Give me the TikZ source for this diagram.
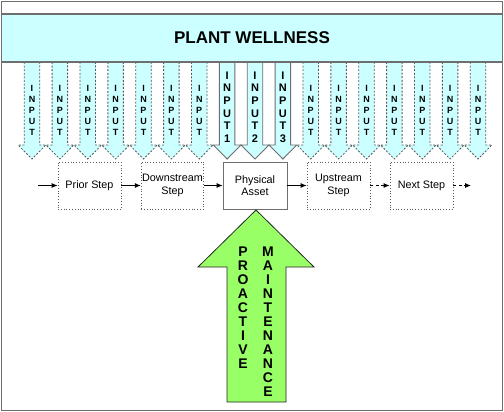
\documentclass[tikz,border=0pt]{standalone}
\usepackage{fontspec}
\setmainfont{Liberation Sans}
\usetikzlibrary{arrows.meta}
\definecolor{cyanfill}{RGB}{204,255,255}
\definecolor{greenfill}{RGB}{153,255,102}
\definecolor{framegray}{RGB}{110,110,110}
\definecolor{dashgray}{RGB}{90,90,90}
\tikzset{
  dasharrow/.style={fill=cyanfill, draw=dashgray, line width=0.8pt, dash pattern=on 2pt off 1.6pt},
  solidarrow/.style={fill=cyanfill, draw=framegray, line width=0.9pt},
  smalltxt/.style={font=\fontsize{9}{11.2}\selectfont\bfseries, align=center, inner sep=0pt},
  bigtxt/.style={font=\fontsize{11}{12.6}\selectfont\bfseries, align=center, inner sep=0pt},
  stepbox/.style={draw=dashgray, dotted, line width=0.8pt, minimum height=47pt, inner sep=1pt, align=center, font=\fontsize{10.8}{12.5}\selectfont},
  assetbox/.style={draw=framegray, fill=white, line width=0.8pt, minimum height=47pt, minimum width=64pt, inner sep=1pt, align=center, font=\fontsize{10.8}{12.5}\selectfont},
  flow/.style={-{Latex[length=6pt,width=5pt]}, line width=0.8pt, black},
  dflow/.style={flow, dash pattern=on 3pt off 2.5pt},
  greentxt/.style={font=\fontsize{14}{14}\selectfont\bfseries, align=center, inner sep=0pt},
}
\begin{document}
\begin{tikzpicture}[x=1pt,y=-1pt]
\useasboundingbox (0,0) rectangle (504,412);
\draw[framegray, line width=1.2pt] (1.5,1.5) rectangle (502.5,410.5);
% input arrows
\foreach \i in {0,...,16}{
  \pgfmathsetmacro\cx{32+27.875*\i}
  \ifnum\i<7
    \path[dasharrow] (\cx-7.75,62) -- (\cx-7.75,145) -- (\cx-13.9,145) -- (\cx,159) -- (\cx+13.9,145) -- (\cx+7.75,145) -- (\cx+7.75,62);
    \node[smalltxt] (in\i) at (\cx,110.5) {I\\N\\P\\U\\T};
  \else\ifnum\i>9
    \path[dasharrow] (\cx-7.75,62) -- (\cx-7.75,145) -- (\cx-13.9,145) -- (\cx,159) -- (\cx+13.9,145) -- (\cx+7.75,145) -- (\cx+7.75,62);
    \node[smalltxt] (in\i) at (\cx,110.5) {I\\N\\P\\U\\T};
  \fi\fi
}
\foreach \i/\n in {7/1,8/2,9/3}{
  \pgfmathsetmacro\cx{32+27.875*\i}
  \path[solidarrow] (\cx-7.75,62) -- (\cx-7.75,145) -- (\cx-13.9,145) -- (\cx,159) -- (\cx+13.9,145) -- (\cx+7.75,145) -- (\cx+7.75,62);
  \node[bigtxt] (in\i) at (\cx,107) {I\\N\\P\\U\\T\\\n};
}
% band
\node[fill=cyanfill, draw=framegray, line width=1.2pt, minimum width=501pt, minimum height=48pt, inner sep=0pt,
      font=\fontsize{17}{20}\selectfont\bfseries] (band) at (252,38) {PLANT WELLNESS};
% steps
\node[stepbox, minimum width=63pt] (prior) at (89.5,185.5) {Prior Step};
\node[stepbox, minimum width=61pt] (down) at (172.5,185.5) {Downstream\\Step};
\node[assetbox] (asset) at (255,185.5) {Physical\\Asset};
\node[stepbox, minimum width=63pt] (up) at (338.5,185.5) {Upstream\\Step};
\node[stepbox, minimum width=63pt] (next) at (421.5,185.5) {Next Step};
\coordinate (start) at (38,185.5);
\coordinate (finish) at (471,185.5);
\draw[flow] (start) -- (prior);
\draw[flow] (prior) -- (down);
\draw[flow] (down) -- (asset);
\draw[flow] (asset) -- (up);
\draw[dflow] (up) -- (next);
\draw[dflow] (next) -- (finish);
% green arrow
\path[fill=greenfill, draw=black!85, line width=0.8pt] (227,402) -- (227,267) -- (198,267) -- (256,210) -- (314,267) -- (286,267) -- (286,402) -- cycle;
\node[greentxt] (pro) at (243,307.5) {P\\R\\O\\A\\C\\T\\I\\V\\E};
\node[greentxt] (maint) at (268,322) {M\\A\\I\\N\\T\\E\\N\\A\\N\\C\\E};
\end{tikzpicture}
\end{document}
